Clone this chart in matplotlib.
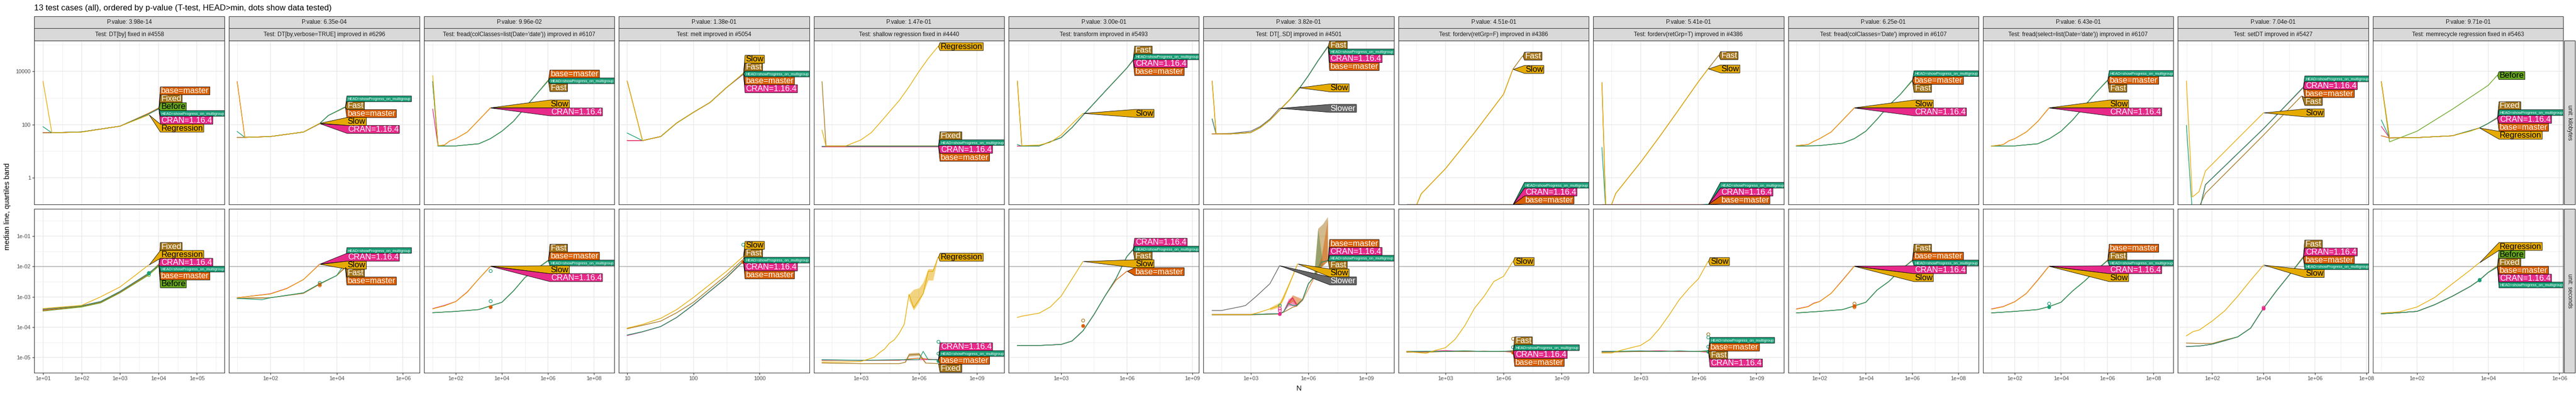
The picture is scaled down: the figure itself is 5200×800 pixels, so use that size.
import math
import matplotlib
matplotlib.use("Agg")
import matplotlib.pyplot as plt
from matplotlib.patches import Polygon, Rectangle
from matplotlib.transforms import IdentityTransform
from matplotlib.font_manager import FontProperties
from matplotlib.ticker import NullFormatter

plt.rcParams["font.family"] = ["Liberation Sans", "DejaVu Sans"]

HEAD = "HEAD=showProgress_on_multigroup"
BASE = "base=master"
CRAN = "CRAN=1.16.4"
FAST, FIXED, SLOW, REG, BEFORE, SLOWER = "Fast", "Fixed", "Slow", "Regression", "Before", "Slower"

# ---------------- data ----------------
p_values = ["3.98e-14", "6.35e-04", "9.96e-02", "1.38e-01", "1.47e-01", "3.00e-01", "3.82e-01",
            "4.51e-01", "5.41e-01", "6.25e-01", "6.43e-01", "7.04e-01", "9.71e-01"]
test_names = ["DT[by] fixed in #4558", "DT[by,verbose=TRUE] improved in #6296",
              "fread(colClasses=list(Date='date')) improved in #6107", "melt improved in #5054",
              "shallow regression fixed in #4440", "transform improved in #5493",
              "DT[,.SD] improved in #4501", "forderv(retGrp=F) improved in #4386",
              "forderv(retGrp=T) improved in #4386", "fread(colClasses='Date') improved in #6107",
              "fread(select=list(Date='date')) improved in #6107", "setDT improved in #5427",
              "memrecycle regression fixed in #5463"]

# panel 1
p01_kb = {
    BASE: ([10, 17, 100, 1000, 5600, 10000], [49, 49, 53, 87, 269, 417]),
    FIXED: ([10, 17, 100, 1000, 5600, 10000], [49, 49, 53, 87, 251, 407]),
    BEFORE: ([10, 17, 100, 1000, 5600, 10000], [49, 49, 53, 87, 251, 398]),
    HEAD: ([10, 17, 100, 1000, 5600, 10000], [83, 49, 53, 87, 251, 389]),
    CRAN: ([10, 17, 100, 1000, 5600, 10000], [49, 49, 53, 87, 251, 380]),
    REG: ([10, 17, 100, 1000, 5600], [4200, 49, 52, 87, 229]),
}
p01_sec = {
    FIXED: ([10, 100, 316, 1000, 5600, 10000], [3.5e-4, 4.8e-4, 6.6e-4, 1.40e-3, 5.5e-3, 1.17e-2]),
    REG: ([10, 100, 316, 1000, 1700, 5600], [4.1e-4, 5.2e-4, 1.0e-3, 2.1e-3, 3.5e-3, 1.12e-2]),
    CRAN: ([10, 100, 316, 1000, 5600, 10000], [3.8e-4, 5.1e-4, 7.0e-4, 1.5e-3, 6.0e-3, 1.10e-2]),
    HEAD: ([10, 100, 316, 1000, 5600, 10000], [3.9e-4, 5.0e-4, 7.0e-4, 1.5e-3, 6.0e-3, 1.07e-2]),
    BASE: ([10, 100, 316, 1000, 5600, 10000], [3.7e-4, 5.0e-4, 6.8e-4, 1.45e-3, 5.8e-3, 1.05e-2]),
    BEFORE: ([10, 100, 316, 1000, 5600, 10000], [3.4e-4, 4.6e-4, 6.3e-4, 1.35e-3, 5.2e-3, 1.0e-2]),
}
p01_dots = [(HEAD, 5600, 6.3e-3, False), (BEFORE, 5600, 5.4e-3, False), (HEAD, 5600, 6.0e-3, True)]

# panel 2
p02_kb = {
    HEAD: ([10, 17, 100, 1000, 3100, 5600, 17800], [55, 33, 35.5, 52.5, 110, 219, 457]),
    FAST: ([10, 17, 100, 1000, 3100, 5600, 17800], [33, 33, 35.5, 52.5, 110, 219, 447]),
    BASE: ([10, 17, 100, 1000, 3100, 5600, 17800], [33, 33, 35.5, 52.5, 110, 219, 437]),
    SLOW: ([10, 17, 100, 1000, 3100], [4070, 33, 35.5, 52.5, 112]),
    CRAN: ([10, 17, 100, 1000, 3100], [4070, 33, 35.5, 52.5, 107]),
}
p02_sec = {
    HEAD: ([10, 56, 100, 316, 1000, 3100, 10000, 17800], [8.9e-4, 8.0e-4, 9.3e-4, 1.12e-3, 1.35e-3, 2.7e-3, 5.0e-3, 1.26e-2]),
    CRAN: ([10, 100, 316, 1000, 3100], [9.3e-4, 1.26e-3, 1.9e-3, 3.7e-3, 1.2e-2]),
    SLOW: ([10, 100, 316, 1000, 3100], [9.3e-4, 1.23e-3, 1.86e-3, 3.7e-3, 1.17e-2]),
    FAST: ([10, 100, 316, 1000, 3100, 10000, 17800], [8.9e-4, 9.3e-4, 1.12e-3, 1.35e-3, 2.7e-3, 5.0e-3, 9.3e-3]),
    BASE: ([10, 100, 316, 1000, 3100, 10000, 17800], [8.9e-4, 9.3e-4, 1.1e-3, 1.3e-3, 2.6e-3, 5.0e-3, 8.9e-3]),
}
p02_dots = [(BASE, 3100, 2.6e-3, True), (HEAD, 3100, 2.9e-3, False), (BASE, 3100, 2.4e-3, False)]

# panel 3
p03_kb = {
    BASE: ([10, 17, 100, 1000, 3162, 1e4, 31623, 1e5, 316228, 1e6], [4070, 15.5, 15.8, 19, 29.5, 56.2, 132, 427, 1380, 4570]),
    HEAD: ([10, 17, 100, 1000, 3162, 1e4, 31623, 1e5, 316228, 1e6], [4070, 15.5, 15.8, 19, 29.5, 56.2, 132, 427, 1380, 4370]),
    FAST: ([10, 17, 100, 1000, 3162, 1e4, 31623, 1e5, 316228, 1e6], [4070, 15.5, 15.8, 19, 29.5, 56.2, 132, 427, 1380, 4270]),
    SLOW: ([10, 17, 32, 56, 100, 316, 1000, 3162], [6920, 16.2, 17, 24.5, 29.5, 52.5, 148, 427]),
    CRAN: ([10, 17, 32, 56, 100, 316, 1000, 3162], [380, 16.2, 17, 24.5, 29.5, 52.5, 148, 417]),
}
p03_sec = {
    FAST: ([10, 100, 1000, 3162, 1e4, 31623, 1e5, 316228, 1e6], [3.0e-4, 3.3e-4, 3.8e-4, 5.0e-4, 6.6e-4, 1.55e-3, 4.3e-3, 8.3e-3, 1.58e-2]),
    BASE: ([10, 100, 1000, 3162, 1e4, 31623, 1e5, 316228, 1e6], [3.0e-4, 3.3e-4, 3.8e-4, 5.0e-4, 6.6e-4, 1.55e-3, 4.3e-3, 8.3e-3, 1.55e-2]),
    HEAD: ([10, 100, 1000, 3162, 1e4, 31623, 1e5, 316228, 1e6], [3.0e-4, 3.3e-4, 3.8e-4, 5.0e-4, 6.6e-4, 1.55e-3, 4.3e-3, 8.3e-3, 1.51e-2]),
    SLOW: ([10, 32, 100, 316, 1000, 3162], [4.0e-4, 5.0e-4, 6.9e-4, 1.41e-3, 3.9e-3, 1.02e-2]),
    CRAN: ([10, 32, 100, 316, 1000, 3162], [4.1e-4, 5.2e-4, 7.0e-4, 1.45e-3, 3.9e-3, 1.0e-2]),
}
p03_dots = [(HEAD, 3162, 7.1e-3, False), (HEAD, 3162, 7.2e-4, False), (BASE, 3162, 4.6e-4, True)]

# panel 4
p04_kb = {
    SLOW: ([10, 17, 32, 56, 100, 178, 316, 562], [4270, 25, 35.5, 115, 288, 676, 2450, 8300]),
    FAST: ([10, 17, 32, 56, 100, 178, 316, 562], [4270, 25, 35.5, 115, 288, 676, 2450, 8130]),
    HEAD: ([10, 17, 32, 56, 100, 178, 316, 562], [48, 25, 35.5, 115, 288, 676, 2450, 7940]),
    BASE: ([10, 17, 32, 56, 100, 178, 316, 562], [25, 25, 35.5, 115, 288, 676, 2450, 7760]),
    CRAN: ([10, 17, 32, 56, 100, 178, 316, 562], [25, 25, 35.5, 115, 288, 676, 2450, 7590]),
}
p04_sec = {
    SLOW: ([10, 17, 32, 56, 100, 316, 562], [9.3e-5, 1.23e-4, 1.95e-4, 3.8e-4, 9.5e-4, 6.9e-3, 2.1e-2]),
    FAST: ([10, 17, 32, 56, 100, 316, 562], [8.9e-5, 1.15e-4, 1.58e-4, 3.0e-4, 6.6e-4, 5.2e-3, 1.7e-2]),
    HEAD: ([10, 17, 32, 56, 100, 316, 562], [5.5e-5, 7.1e-5, 1.05e-4, 2.1e-4, 5.5e-4, 4.3e-3, 1.48e-2]),
    CRAN: ([10, 17, 32, 56, 100, 316, 562], [5.3e-5, 7.0e-5, 1.05e-4, 2.1e-4, 5.4e-4, 4.3e-3, 1.45e-2]),
    BASE: ([10, 17, 32, 56, 100, 316, 562], [5.5e-5, 7.1e-5, 1.05e-4, 2.1e-4, 5.5e-4, 4.2e-3, 1.41e-2]),
}
p04_dots = [(HEAD, 562, 5.2e-2, False), (BASE, 562, 1.41e-2, True)]

# panel 5
p05_kb = {
    REG: ([10, 16, 158, 1000, 3548, 1e4, 31623, 1e5, 316228, 1e6, 3162278, 1e7],
          [61.7, 15.5, 15.5, 26.3, 50, 117, 309, 813, 2630, 9550, 30900, 85100]),
    FIXED: ([10, 16, 1e7], [4070, 15.8, 15.8]),
    HEAD: ([10, 1e7], [15.5, 15.5]),
    CRAN: ([10, 1e7], [15.1, 15.1]),
    BASE: ([10, 1e7], [14.8, 14.8]),
}
p05_sec = {
    REG: ([10, 100, 1000, 5000, 11200, 16600, 30000, 54000, 98000, 180000, 316000, 550000, 1.7e6, 3.1e6, 5.5e6, 1e7],
          [7.1e-6, 7.1e-6, 7.4e-6, 1.02e-5, 1.58e-5, 1.86e-5, 2.95e-5, 3.8e-5, 6.3e-5, 1.26e-4,
           1.2e-3, 4.4e-4, 1.26e-3, 6.9e-3, 6.9e-3, 2.0e-2]),
    FIXED: ([10, 1000, 1e5, 200000, 316000, 1.05e6, 2.3e6, 1e7], [6.6e-6, 6.3e-6, 6.3e-6, 7.0e-6, 1.23e-5, 1.3e-5, 6.6e-6, 6.3e-6]),
    HEAD: ([10, 1000, 1e5, 1.05e6, 1.7e6, 3.1e6, 1e7], [8.5e-6, 8.1e-6, 8.5e-6, 8.5e-6, 1.6e-5, 8.5e-6, 8.5e-6]),
    CRAN: ([10, 1000, 1e5, 1e6, 1e7], [8.3e-6, 8.1e-6, 8.3e-6, 8.5e-6, 8.7e-6]),
    BASE: ([10, 1000, 1e5, 316000, 1e6, 1e7], [8.1e-6, 8.1e-6, 8.1e-6, 9.0e-6, 9.5e-6, 8.3e-6]),
}
p05_bands = {
    REG: ([316000, 550000, 1.05e6, 1.7e6, 3.1e6, 5.5e6, 1e7],
          [7.7e-4, 3.6e-4, 6.7e-4, 1.26e-3, 3.5e-3, 3.5e-3, 2.0e-2],
          [1.2e-3, 1.74e-3, 1.95e-3, 3.0e-3, 8.3e-3, 8.3e-3, 2.0e-2]),
    FIXED: ([200000, 316000, 1.05e6, 2.3e6], [6.6e-6, 1.1e-5, 1.15e-5, 6.3e-6], [7.5e-6, 1.4e-5, 1.45e-5, 7.0e-6]),
}
p05_dots = [(HEAD, 1e7, 3.3e-5, False), (HEAD, 1e7, 1.38e-5, False), (HEAD, 1e7, 7.9e-6, True)]

# panel 6
p06_kb = {
    FAST: ([10, 16, 100, 1000, 3162, 1e4, 1e5, 1e6, 1.86e6], [4270, 15.5, 15.8, 32.4, 77.6, 224, 1740, 13200, 26300]),
    HEAD: ([10, 16, 100, 1000, 3162, 1e4, 1e5, 1e6, 1.86e6], [17.8, 15.5, 15.8, 32.4, 77.6, 224, 1740, 13200, 25700]),
    CRAN: ([10, 16, 100, 1000, 3162, 1e4, 1e5, 1e6, 1.86e6], [15.5, 15.5, 15.8, 32.4, 77.6, 224, 1740, 13200, 25100]),
    BASE: ([10, 16, 100, 1000, 3162, 1e4, 1e5, 1e6, 1.86e6], [15.5, 15.5, 15.8, 32.4, 77.6, 224, 1740, 13200, 24500]),
    SLOW: ([10, 16, 100, 316, 1000, 3162, 1e4], [4270, 16.2, 17, 21.4, 40.7, 107, 263]),
}
p06_sec = {
    CRAN: ([10, 100, 1000, 3162, 1e4, 31623, 1e5, 316228, 1e6, 1.86e6], [2.5e-5, 2.5e-5, 2.7e-5, 3.5e-5, 7.6e-5, 2.6e-4, 1.05e-3, 3.9e-3, 2.1e-2, 3.6e-2]),
    HEAD: ([10, 100, 1000, 3162, 1e4, 31623, 1e5, 316228, 1e6, 1.86e6], [2.5e-5, 2.5e-5, 2.7e-5, 3.5e-5, 7.6e-5, 2.6e-4, 1.05e-3, 3.9e-3, 2.1e-2, 3.5e-2]),
    FAST: ([10, 100, 1000, 3162, 1e4, 31623, 1e5, 316228, 1e6, 1.86e6], [2.5e-5, 2.5e-5, 2.7e-5, 3.5e-5, 7.6e-5, 2.6e-4, 1.05e-3, 3.9e-3, 2.1e-2, 3.4e-2]),
    BASE: ([10, 100, 1000, 3162, 1e4, 31623, 1e5, 316228, 1e6], [2.5e-5, 2.5e-5, 2.7e-5, 3.5e-5, 7.6e-5, 2.6e-4, 1.05e-3, 3.5e-3, 6.9e-3]),
    SLOW: ([10, 16, 100, 316, 1000, 3162, 1e4], [2.1e-4, 2.3e-4, 2.9e-4, 4.6e-4, 1.05e-3, 3.9e-3, 1.45e-2]),
}
p06_dots = [(FAST, 1e4, 1.7e-4, False), (BASE, 1e4, 1.12e-4, True)]

# panel 7
p07_kb = {
    FAST: ([10, 16, 100, 1000, 3162, 1e4, 31623, 1e5, 316228, 1e6, 3.16e6, 1e7],
           [4270, 44.7, 44.7, 50, 77.6, 148, 347, 813, 2140, 6920, 25100, 85100]),
    HEAD: ([10, 16, 100, 1000, 3162, 1e4, 31623, 1e5, 316228, 1e6, 3.16e6, 1e7],
           [162, 44.7, 44.7, 50, 77.6, 148, 347, 813, 2140, 6920, 25100, 83200]),
    CRAN: ([10, 16, 100, 1000, 3162, 1e4, 31623, 1e5, 316228, 1e6, 3.16e6, 1e7],
           [162, 44.7, 44.7, 50, 77.6, 148, 347, 813, 2140, 6920, 25100, 81300]),
    BASE: ([10, 16, 100, 1000, 3162, 1e4, 31623, 1e5, 316228, 1e6, 3.16e6, 1e7],
           [44.7, 44.7, 44.7, 50, 77.6, 148, 347, 813, 2140, 6920, 25100, 79400]),
    SLOW: ([10, 16, 100, 1000, 3162, 1e4, 31623, 1e5, 316228], [4270, 44.7, 44.7, 50, 77.6, 148, 347, 813, 2400]),
    SLOWER: ([10, 16, 100, 1000, 3162, 1e4, 31623], [44.7, 44.7, 46.8, 56.2, 85, 162, 407]),
}
p07_sec = {
    SLOWER: ([10, 31, 340, 550, 2000, 1e4, 31623], [3.55e-4, 3.55e-4, 4.8e-4, 5.2e-4, 1.05e-3, 2.7e-3, 1.05e-2]),
    SLOW: ([10, 1000, 2450, 1e4, 31623, 51000, 275000], [2.6e-4, 2.6e-4, 3.0e-4, 4.0e-4, 5.2e-4, 9.3e-4, 1.2e-2]),
    HEAD: ([10, 1000, 31623, 51000, 93000, 150000, 250000, 500000, 1e6, 1.95e6, 4.7e6, 1e7],
           [2.6e-4, 2.6e-4, 2.8e-4, 3.2e-4, 6.0e-4, 5.2e-4, 5.2e-4, 8.1e-4, 2.7e-3, 4.5e-3, 1.38e-2, 1.55e-2]),
    CRAN: ([10, 1000, 31623, 51000, 93000, 150000, 250000, 500000, 1e6, 1.95e6, 4.7e6, 1e7],
           [2.6e-4, 2.6e-4, 2.8e-4, 3.2e-4, 6.8e-4, 9.3e-4, 5.2e-4, 8.1e-4, 2.7e-3, 4.5e-3, 1.38e-2, 1.58e-2]),
    FAST: ([10, 1000, 31623, 51000, 93000, 150000, 250000, 500000, 1e6, 1.95e6, 4.7e6, 1e7],
           [2.55e-4, 2.55e-4, 2.7e-4, 3.1e-4, 3.8e-4, 4.5e-4, 5.0e-4, 8.1e-4, 2.7e-3, 4.5e-3, 1.38e-2, 1.52e-2]),
    BASE: ([10, 1000, 31623, 51000, 93000, 150000, 250000, 500000, 1e6, 1.95e6, 4.7e6, 1e7],
           [2.6e-4, 2.6e-4, 2.8e-4, 3.2e-4, 6.0e-4, 9.3e-4, 5.5e-4, 8.1e-4, 2.7e-3, 4.5e-3, 1.38e-2, 1.60e-2]),
}
p07_bands = {
    SLOW: ([1e4, 31623, 51000, 275000], [3.6e-4, 4.6e-4, 8.0e-4, 1.2e-2], [4.4e-4, 6.5e-4, 1.2e-3, 1.2e-2]),
    CRAN: ([51000, 93000, 150000, 250000], [3.2e-4, 5.0e-4, 5.0e-4, 4.8e-4], [3.4e-4, 8.5e-4, 1.0e-3, 6.0e-4]),
    HEAD: ([1.95e6, 3.16e6, 5.6e6], [4.0e-3, 8.0e-3, 1.1e-2], [5.0e-3, 1.78e-1, 1.2e-2]),
    FAST: ([1.95e6, 3.16e6, 5.6e6, 1e7], [4.0e-3, 8.0e-3, 1.1e-2, 1.5e-2], [5.0e-3, 1.78e-1, 2.5e-1, 4.3e-1]),
    BASE: ([93000, 150000, 250000, 500000, 1.95e6, 4.7e6, 1e7],
           [5.5e-4, 7.0e-4, 5.0e-4, 7.5e-4, 4.0e-3, 9.3e-3, 1.5e-2],
           [7.0e-4, 1.15e-3, 1.0e-3, 8.5e-4, 5.0e-3, 2.0e-2, 3.5e-1]),
}
p07_dots = [(HEAD, 31623, 5.2e-4, False), (CRAN, 31623, 4.2e-4, False),
            (CRAN, 31623, 3.6e-4, False), (CRAN, 31623, 2.8e-4, True)]

# panel 8
p08_kb = {
    FAST: ([10, 31, 56, 1000, 31623, 1e6, 3.0e6, 9.5e6], [0.089, 0.089, 0.25, 2.2, 50, 1380, 11800, 37200]),
    SLOW: ([10, 31, 56, 1000, 31623, 1e6, 3.0e6], [0.089, 0.089, 0.25, 2.2, 50, 1380, 11800]),
    HEAD: ([10, 3.0e6], [0.102, 0.102]),
    CRAN: ([10, 3.0e6], [0.101, 0.101]),
    BASE: ([10, 3.0e6], [0.100, 0.100]),
}
p08_sec = {
    SLOW: ([10, 100, 316, 1000, 3162, 1e4, 31623, 1e5, 316228, 1e6, 3.0e6],
           [1.58e-5, 1.38e-5, 1.74e-5, 2.1e-5, 4.0e-5, 1.12e-4, 4.2e-4, 1.05e-3, 3.2e-3, 4.7e-3, 1.45e-2]),
    FAST: ([10, 100, 1000, 1e4, 1e5, 1e6, 3.0e6], [1.5e-5, 1.5e-5, 1.58e-5, 1.58e-5, 1.62e-5, 1.58e-5, 1.70e-5]),
    HEAD: ([10, 100, 1000, 1e4, 1e5, 1e6, 3.0e6], [1.58e-5, 1.62e-5, 1.58e-5, 1.66e-5, 1.58e-5, 1.62e-5, 1.62e-5]),
    CRAN: ([10, 100, 1000, 1e4, 1e5, 1e6, 3.0e6], [1.58e-5, 1.58e-5, 1.70e-5, 1.58e-5, 1.62e-5, 1.58e-5, 1.58e-5]),
    BASE: ([10, 100, 1000, 1e4, 1e5, 1e6, 3.0e6], [1.58e-5, 1.58e-5, 1.58e-5, 1.66e-5, 1.58e-5, 1.58e-5, 1.50e-5]),
}
p08_dots = [(FAST, 3.0e6, 4.2e-5, False), (HEAD, 3.0e6, 2.2e-5, False), (BASE, 3.0e6, 1.48e-5, True)]

# panel 9
p09_kb = {
    FAST: ([10, 16, 30, 52, 1000, 1e4, 1e5, 1e6, 3.16e6, 1.1e7], [3800, 0.05, 0.089, 0.26, 3.8, 36.3, 380, 4070, 12300, 38900]),
    SLOW: ([10, 16, 30, 52, 1000, 1e4, 1e5, 1e6, 3.16e6], [3800, 0.05, 0.089, 0.26, 3.8, 36.3, 380, 4070, 12300]),
    HEAD: ([10, 16, 3.16e6], [13.8, 0.05, 0.102]),
    CRAN: ([10, 3.16e6], [0.101, 0.101]),
    BASE: ([10, 3.16e6], [0.100, 0.100]),
}
p09_sec = {
    SLOW: ([10, 31, 100, 316, 1000, 3162, 1e4, 31623, 1e5, 316228, 1e6, 3.16e6],
           [1.41e-5, 1.41e-5, 1.74e-5, 2.1e-5, 2.5e-5, 4.0e-5, 9.3e-5, 2.6e-4, 7.9e-4, 1.86e-3, 3.9e-3, 1.45e-2]),
    HEAD: ([10, 1000, 1e4, 1e5, 1e6, 3.16e6], [1.58e-5, 1.66e-5, 1.58e-5, 1.66e-5, 1.58e-5, 1.70e-5]),
    BASE: ([10, 1000, 1e4, 1e5, 1e6, 3.16e6], [1.58e-5, 1.58e-5, 1.66e-5, 1.58e-5, 1.62e-5, 1.62e-5]),
    FAST: ([10, 1000, 1e4, 1e5, 1e6, 3.16e6], [1.5e-5, 1.58e-5, 1.58e-5, 1.62e-5, 1.58e-5, 1.58e-5]),
    CRAN: ([10, 1000, 1e4, 1e5, 1e6, 3.16e6], [1.58e-5, 1.62e-5, 1.66e-5, 1.58e-5, 1.58e-5, 1.50e-5]),
}
p09_dots = [(FAST, 3.16e6, 6.0e-5, False), (HEAD, 3.16e6, 4.7e-5, False),
            (HEAD, 3.16e6, 2.3e-5, False), (HEAD, 3.16e6, 1.58e-5, True)]

# panel 10
p10_kb = {
    HEAD: ([10, 100, 1000, 3162, 1e4, 31623, 1e5, 316228, 1e6], [15.5, 16.2, 20, 29.5, 56.2, 162, 525, 1380, 4570]),
    BASE: ([10, 100, 1000, 3162, 1e4, 31623, 1e5, 316228, 1e6], [15.5, 16.2, 20, 29.5, 56.2, 162, 525, 1380, 4370]),
    FAST: ([10, 100, 1000, 3162, 1e4, 31623, 1e5, 316228, 1e6], [15.5, 16.2, 20, 29.5, 56.2, 162, 525, 1380, 4270]),
    SLOW: ([10, 32, 56, 100, 316, 1000, 3162], [16.2, 17.8, 23.4, 29.5, 52.5, 148, 427]),
    CRAN: ([10, 32, 56, 100, 316, 1000, 3162], [16.2, 17.8, 23.4, 29.5, 52.5, 148, 417]),
}
p10_sec = {
    FAST: ([10, 100, 1000, 3162, 1e4, 31623, 1e5, 316228, 1e6], [2.95e-4, 3.3e-4, 3.8e-4, 5.0e-4, 6.6e-4, 1.7e-3, 3.2e-3, 7.6e-3, 1.58e-2]),
    BASE: ([10, 100, 1000, 3162, 1e4, 31623, 1e5, 316228, 1e6], [2.95e-4, 3.3e-4, 3.8e-4, 5.0e-4, 6.6e-4, 1.7e-3, 3.2e-3, 7.6e-3, 1.55e-2]),
    HEAD: ([10, 100, 1000, 3162, 1e4, 31623, 1e5, 316228, 1e6], [2.95e-4, 3.3e-4, 3.8e-4, 5.0e-4, 6.6e-4, 1.7e-3, 3.2e-3, 7.6e-3, 1.51e-2]),
    CRAN: ([10, 32, 56, 100, 316, 1000, 3162], [4.0e-4, 4.8e-4, 6.2e-4, 7.0e-4, 1.3e-3, 3.6e-3, 1.02e-2]),
    SLOW: ([10, 32, 56, 100, 316, 1000, 3162], [3.9e-4, 4.7e-4, 6.0e-4, 6.9e-4, 1.29e-3, 3.5e-3, 1.0e-2]),
}
p10_dots = [(FAST, 3162, 6.0e-4, False), (BASE, 3162, 5.0e-4, True), (BASE, 3162, 4.6e-4, False)]

# panel 11
p11_kb = {
    HEAD: ([10, 100, 1000, 3162, 1e4, 31623, 1e5, 316228, 1e6], [15.5, 15.8, 19, 29.5, 56.2, 148, 479, 1550, 4570]),
    BASE: ([10, 100, 1000, 3162, 1e4, 31623, 1e5, 316228, 1e6], [15.5, 15.8, 19, 29.5, 56.2, 148, 479, 1550, 4470]),
    FAST: ([10, 100, 1000, 3162, 1e4, 31623, 1e5, 316228, 1e6], [15.5, 15.8, 19, 29.5, 56.2, 148, 479, 1550, 4370]),
    SLOW: ([10, 32, 56, 100, 316, 1000, 3020], [15.5, 17.8, 24.5, 29.5, 52.5, 132, 427]),
    CRAN: ([10, 32, 56, 100, 316, 1000, 3020], [15.5, 17.8, 24.5, 29.5, 52.5, 132, 417]),
}
p11_sec = {
    BASE: ([10, 100, 1000, 3162, 1e4, 31623, 1e5, 316228, 1e6], [2.95e-4, 3.3e-4, 3.8e-4, 4.8e-4, 6.6e-4, 1.55e-3, 3.2e-3, 7.2e-3, 1.58e-2]),
    FAST: ([10, 100, 1000, 3162, 1e4, 31623, 1e5, 316228, 1e6], [2.95e-4, 3.3e-4, 3.8e-4, 4.8e-4, 6.6e-4, 1.55e-3, 3.2e-3, 7.2e-3, 1.55e-2]),
    HEAD: ([10, 100, 1000, 3162, 1e4, 31623, 1e5, 316228, 1e6], [2.95e-4, 3.3e-4, 3.8e-4, 4.8e-4, 6.6e-4, 1.55e-3, 3.2e-3, 7.2e-3, 1.51e-2]),
    CRAN: ([10, 32, 100, 316, 1000, 3020], [4.0e-4, 4.8e-4, 6.9e-4, 1.29e-3, 3.6e-3, 1.02e-2]),
    SLOW: ([10, 32, 100, 316, 1000, 3020], [3.9e-4, 4.7e-4, 6.8e-4, 1.27e-3, 3.5e-3, 1.0e-2]),
}
p11_dots = [(HEAD, 3020, 6.0e-4, False), (HEAD, 3020, 4.6e-4, True)]

# panel 12
p12_kb = {
    HEAD: ([10, 17, 31, 55, 1e4, 340000], [93, 0.05, 0.05, 0.55, 70, 2460]),
    CRAN: ([10, 17, 31, 55, 1e4, 340000], [0.05, 0.05, 0.05, 0.55, 70, 2400]),
    BASE: ([10, 17, 31, 55, 1e4, 340000], [0.05, 0.05, 0.05, 0.55, 70, 2340]),
    FAST: ([10, 18, 31, 55, 1e4, 300000], [0.05, 0.05, 0.08, 0.26, 40, 1175]),
    SLOW: ([10, 17, 31, 55, 1000, 1e4], [4270, 0.19, 0.30, 1.8, 30, 275]),
}
p12_sec = {
    FAST: ([10, 32, 100, 316, 1000, 3162, 1e4, 31623, 1e5, 340000], [3.0e-5, 2.9e-5, 2.9e-5, 3.8e-5, 4.8e-5, 9.3e-5, 4.2e-4, 1.55e-3, 5.2e-3, 2.0e-2]),
    CRAN: ([10, 32, 100, 316, 1000, 3162, 1e4, 31623, 1e5, 340000], [2.3e-5, 2.4e-5, 2.75e-5, 3.6e-5, 4.8e-5, 9.3e-5, 4.2e-4, 1.55e-3, 5.2e-3, 1.95e-2]),
    BASE: ([10, 32, 100, 316, 1000, 3162, 1e4, 31623, 1e5, 340000], [2.3e-5, 2.4e-5, 2.75e-5, 3.6e-5, 4.8e-5, 9.3e-5, 4.2e-4, 1.55e-3, 5.2e-3, 1.9e-2]),
    HEAD: ([10, 32, 100, 316, 1000, 3162, 1e4, 31623, 1e5, 340000], [2.3e-5, 2.4e-5, 2.75e-5, 3.6e-5, 4.8e-5, 9.3e-5, 4.2e-4, 1.55e-3, 5.2e-3, 1.86e-2]),
    SLOW: ([10, 18, 32, 100, 316, 1000, 3162, 1e4], [5.2e-5, 7.1e-5, 8.1e-5, 1.58e-4, 3.5e-4, 1.05e-3, 3.5e-3, 1.1e-2]),
}
p12_dots = [(CRAN, 1e4, 4.5e-4, False), (CRAN, 1e4, 4.2e-4, True)]

# panel 13
p13_kb = {
    BEFORE: ([10, 17, 100, 1000, 1e4, 17800], [4070, 22.4, 56.2, 380, 2950, 6920]),
    FIXED: ([10, 17, 100, 1000, 5623, 1e4, 17800], [4070, 31.6, 32.4, 38, 74, 110, 182]),
    HEAD: ([10, 17, 100, 1000, 5623, 1e4, 17800], [148, 31.6, 32.4, 38, 74, 110, 178]),
    CRAN: ([10, 17, 100, 1000, 5623, 1e4, 17800], [85, 31.6, 32.4, 38, 74, 110, 174]),
    BASE: ([10, 17, 100, 1000, 5623, 1e4, 17800], [38, 31.6, 32.4, 38, 74, 110, 170]),
    REG: ([10, 17, 100, 1000, 3162, 5623], [4070, 31.6, 32.4, 38, 56.2, 74]),
}
p13_sec = {
    REG: ([10, 32, 100, 316, 1000, 3162, 5623], [2.9e-4, 3.2e-4, 4.6e-4, 9.5e-4, 2.7e-3, 7.6e-3, 1.32e-2]),
    BEFORE: ([10, 32, 100, 316, 1000, 3162, 5623, 1e4, 17800], [2.75e-4, 3.0e-4, 3.3e-4, 5.5e-4, 1.05e-3, 2.2e-3, 3.5e-3, 6.3e-3, 1.02e-2]),
    FIXED: ([10, 32, 100, 316, 1000, 3162, 5623, 1e4, 17800], [2.75e-4, 3.0e-4, 3.3e-4, 5.5e-4, 1.05e-3, 2.2e-3, 3.5e-3, 6.3e-3, 1.0e-2]),
    BASE: ([10, 32, 100, 316, 1000, 3162, 5623, 1e4, 17800], [2.75e-4, 3.0e-4, 3.3e-4, 5.5e-4, 1.05e-3, 2.2e-3, 3.5e-3, 6.3e-3, 9.8e-3]),
    CRAN: ([10, 32, 100, 316, 1000, 3162, 5623, 1e4, 17800], [2.75e-4, 3.0e-4, 3.3e-4, 5.5e-4, 1.05e-3, 2.2e-3, 3.5e-3, 6.3e-3, 9.5e-3]),
    HEAD: ([10, 32, 100, 316, 1000, 3162, 5623, 1e4, 17800], [2.75e-4, 3.0e-4, 3.3e-4, 5.5e-4, 1.05e-3, 2.2e-3, 3.5e-3, 6.3e-3, 9.3e-3]),
}
p13_dots = [(HEAD, 5623, 3.7e-3, False), (HEAD, 5623, 3.5e-3, True)]

PANELS = [
    (p01_kb, p01_sec, {}, p01_dots), (p02_kb, p02_sec, {}, p02_dots), (p03_kb, p03_sec, {}, p03_dots),
    (p04_kb, p04_sec, {}, p04_dots), (p05_kb, p05_sec, p05_bands, p05_dots), (p06_kb, p06_sec, {}, p06_dots),
    (p07_kb, p07_sec, p07_bands, p07_dots), (p08_kb, p08_sec, {}, p08_dots), (p09_kb, p09_sec, {}, p09_dots),
    (p10_kb, p10_sec, {}, p10_dots), (p11_kb, p11_sec, {}, p11_dots), (p12_kb, p12_sec, {}, p12_dots),
    (p13_kb, p13_sec, {}, p13_dots),
]

# ---------------- styling / layout ----------------
COLORS = {HEAD: "#1B9E77", BASE: "#D95F02", CRAN: "#E7298A", FAST: "#A6761D", FIXED: "#A6761D",
          SLOW: "#E6AB02", REG: "#E6AB02", BEFORE: "#66A61E", SLOWER: "#666666"}
DARK_TEXT = {SLOW, REG, BEFORE}
DRAW_ORDER = [BEFORE, SLOWER, BASE, CRAN, FAST, FIXED, HEAD, SLOW, REG]

# x range (log10 exponents) and break exponents per panel
X_SPECS = [
    (0.77, 5.72, [1, 2, 3, 4, 5], [1.5, 2.5, 3.5, 4.5, 5.5]),
    (0.755, 6.5, [2, 4, 6], [1, 3, 5]),
    (0.62, 8.88, [2, 4, 6, 8], [1, 3, 5, 7]),
    (0.873, 3.75, [1, 2, 3], [1.5, 2.5, 3.5]),
    (0.57, 10.42, [3, 6, 9], [1.5, 4.5, 7.5]),
    (0.60, 9.30, [3, 6, 9], [1.5, 4.5, 7.5]),
    (0.55, 10.44, [3, 6, 9], [1.5, 4.5, 7.5]),
    (0.57, 10.40, [3, 6, 9], [1.5, 4.5, 7.5]),
    (0.55, 10.42, [3, 6, 9], [1.5, 4.5, 7.5]),
    (0.64, 8.88, [2, 4, 6, 8], [1, 3, 5, 7]),
    (0.63, 8.86, [2, 4, 6, 8], [1, 3, 5, 7]),
    (0.67, 8.08, [2, 4, 6, 8], [1, 3, 5, 7]),
    (0.76, 6.11, [2, 4, 6], [1, 3, 5]),
]
PLAIN_X = {3}  # panel index using plain numbers on x

W, H = 5200, 800
PANEL_LEFT, PANEL_W, PANEL_GAP = 69, 384.4, 9
ROWS = [(82, 413), (422, 753)]
STRIPS = [(33, 57.5), (57.5, 82)]
Y_SPECS = [
    ((-1.0, 5.155), [0, 2, 4], ["1", "100", "10000"], [-1, 1, 3, 5]),
    ((-5.49, -0.106), [-5, -4, -3, -2, -1], ["1e-05", "1e-04", "1e-03", "1e-02", "1e-01"],
     [-5.5, -4.5, -3.5, -2.5, -1.5, -0.5]),
]
GRID = "#EBEBEB"
EDGE = "#333333"

fig = plt.figure(figsize=(W / 100, H / 100), dpi=100)
renderer = fig.canvas.get_renderer()


def fig_rect(x0, y0, x1, y1):
    return [x0 / W, 1 - y1 / H, (x1 - x0) / W, (y1 - y0) / H]


def strip(x0, y0, x1, y1, text, rotation=0):
    fig.add_artist(Rectangle((x0 / W, 1 - y1 / H), (x1 - x0) / W, (y1 - y0) / H,
                             transform=fig.transFigure, facecolor="#D9D9D9", edgecolor=EDGE, lw=0.8))
    fig.text((x0 + x1) / 2 / W, 1 - (y0 + y1) / 2 / H, text, ha="center", va="center",
             fontsize=8.5, color="#1A1A1A", rotation=rotation)


def fit_group(group):
    off, vals = 0.0, []
    for it in group:
        vals.append(it["t"] + off + it["h"] / 2)
        off += it["h"]
    return sum(vals) / len(vals), off


def direct_labels(ax, series):
    bb = ax.get_window_extent(renderer)
    items = []
    for name, (n, v) in series.items():
        xp, yp = ax.transData.transform((n[-1], v[-1]))
        small = name == HEAD
        fp = FontProperties(family="Liberation Sans", size=5.5 if small else 12)
        tw, _, _ = renderer.get_text_width_height_descent(name, fp, ismath=False)
        items.append({"name": name, "x": xp, "t": yp, "h": 11.5 if small else 16.0,
                      "w": tw + 3, "fp": fp, "small": small})
    items.sort(key=lambda it: -it["t"])
    groups = []
    for it in items:
        groups.append([it])
        while len(groups) > 1:
            ta, ha = fit_group(groups[-2])
            tb, _ = fit_group(groups[-1])
            if ta - ha < tb:
                last = groups.pop()
                groups[-1] = groups[-1] + last
            else:
                break
    tops, heights = [], []
    ceiling = bb.y1 - 1
    for g in groups:
        top, hh = fit_group(g)
        top = min(top, ceiling)
        tops.append(top)
        heights.append(hh)
        ceiling = top - hh
    floor = bb.y0 + 1
    for i in range(len(groups) - 1, -1, -1):
        if tops[i] - heights[i] < floor:
            tops[i] = floor + heights[i]
        floor = tops[i]
    x0 = max(it["x"] for it in items) + 4
    for g, top in zip(groups, tops):
        cur = top
        for it in g:
            bot = cur - it["h"]
            x1 = x0 + it["w"]
            poly = Polygon([(it["x"] + 1, it["t"]), (x0, cur), (x1, cur), (x1, bot), (x0, bot)],
                           closed=True, transform=IdentityTransform(), facecolor=COLORS[it["name"]],
                           edgecolor="black", lw=0.6, zorder=6)
            ax.add_patch(poly)
            ax.text(x0 + 1.5, bot + (3.2 if it["small"] else 3.3), it["name"], transform=IdentityTransform(),
                    fontproperties=it["fp"], color="black" if it["name"] in DARK_TEXT else "white",
                    ha="left", va="baseline", zorder=7, clip_on=True)
            cur = bot


for i, (kb, sec, bands, dots) in enumerate(PANELS):
    left = PANEL_LEFT + i * (PANEL_W + PANEL_GAP)
    right = left + PANEL_W
    strip(left, STRIPS[0][0], right, STRIPS[0][1], f"P.value: {p_values[i]}")
    strip(left, STRIPS[1][0], right, STRIPS[1][1], f"Test: {test_names[i]}")
    xlo, xhi, xmaj, xmin_ = X_SPECS[i]
    for r, (data, (ylim, ymaj, ylab, ymin)) in enumerate(zip([kb, sec], Y_SPECS)):
        ax = fig.add_axes(fig_rect(left, ROWS[r][0], right, ROWS[r][1]))
        ax.set_xscale("log")
        ax.set_yscale("log")
        ax.set_xlim(10 ** xlo, 10 ** xhi)
        ax.set_ylim(10 ** ylim[0], 10 ** ylim[1])
        ax.set_xticks([10.0 ** e for e in xmaj])
        ax.set_xticks([10.0 ** e for e in xmin_], minor=True)
        ax.set_yticks([10.0 ** e for e in ymaj])
        ax.set_yticks([10.0 ** e for e in ymin], minor=True)
        ax.xaxis.set_minor_formatter(NullFormatter())
        ax.yaxis.set_minor_formatter(NullFormatter())
        if i in PLAIN_X:
            ax.set_xticklabels([str(10 ** e) for e in xmaj])
        else:
            ax.set_xticklabels([f"1e{e:+03d}" for e in xmaj])
        ax.set_yticklabels(ylab)
        ax.grid(True, which="major", color=GRID, lw=1.1)
        ax.grid(True, which="minor", color=GRID, lw=0.55)
        ax.set_axisbelow(True)
        for s in ax.spines.values():
            s.set_color(EDGE)
            s.set_linewidth(0.8)
        ax.tick_params(which="minor", length=0)
        ax.tick_params(axis="x", which="major", length=3 if r == 1 else 0, color=EDGE,
                       labelsize=8, labelcolor="#4D4D4D", pad=2, labelbottom=(r == 1))
        ax.tick_params(axis="y", which="major", length=3 if i == 0 else 0, color=EDGE,
                       labelsize=8, labelcolor="#4D4D4D", pad=2, labelleft=(i == 0))
        if r == 1:
            ax.axhline(0.01, color="#ABABAB", lw=1.0, zorder=1.5)
            for name, (n, lo, hi) in bands.items():
                ax.fill_between(n, lo, hi, color=COLORS[name], alpha=0.5, lw=0, zorder=2)
        for name in DRAW_ORDER:
            if name in data:
                n, v = data[name]
                ax.plot(n, v, color=COLORS[name], lw=1.0, zorder=3, solid_joinstyle="round")
        if r == 1:
            for name, n, v, filled in dots:
                ax.plot([n], [v], marker="o", ms=4.5, mew=0.9, color=COLORS[name],
                        mfc=COLORS[name] if filled else "none", zorder=4, ls="none")
        direct_labels(ax, data)

# right-hand unit strips
last_right = PANEL_LEFT + 12 * (PANEL_W + PANEL_GAP) + PANEL_W
for (y0, y1), txt in zip(ROWS, ["unit: kilobytes", "unit: seconds"]):
    strip(last_right + 2, y0, last_right + 24, y1, txt, rotation=-90)

fig.text(PANEL_LEFT / W, 1 - 16 / H, "13 test cases (all), ordered by p-value (T-test, HEAD>min, dots show data tested)",
         ha="left", va="center", fontsize=12, color="black")
fig.text(15 / W, 1 - 417 / H, "median line, quartiles band", rotation=90, ha="center", va="center",
         fontsize=10.5, color="black")
fig.text((PANEL_LEFT + last_right) / 2 / W, 1 - 785 / H, "N", ha="center", va="center",
         fontsize=10.5, color="black")

fig.savefig("out.png", dpi=100)
